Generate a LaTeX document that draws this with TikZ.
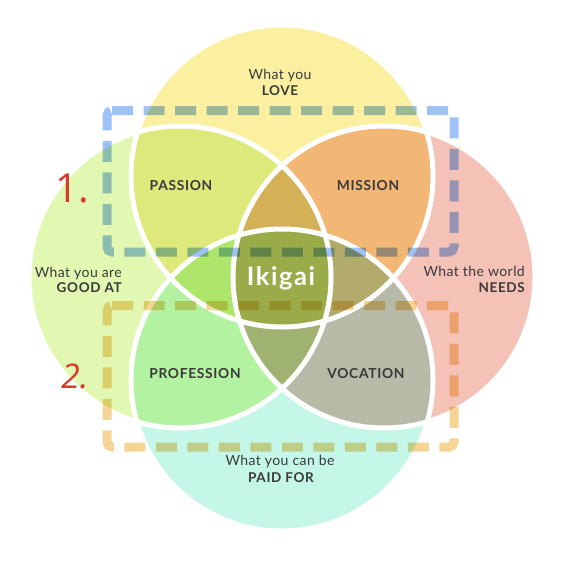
\documentclass[tikz,border=0pt]{standalone}
\usepackage{fontspec}
\setmainfont{Lato}
\newfontfamily\thinspaced{Lato}[LetterSpace=3]
\newfontfamily\spaced{Lato}[LetterSpace=5]
\newfontfamily\wide{Lato}[LetterSpace=6]
\newfontfamily\handfont{Open Sans}
\definecolor{cT}{HTML}{FAF0A0}
\definecolor{cL}{HTML}{E2F8B2}
\definecolor{cR}{HTML}{F5C2B8}
\definecolor{cB}{HTML}{C4F7E8}
\definecolor{cTL}{HTML}{DDE97A}
\definecolor{cTR}{HTML}{F2B675}
\definecolor{cLB}{HTML}{B3F2A1}
\definecolor{cRB}{HTML}{B8BAA8}
\definecolor{cTLR}{HTML}{D4B156}
\definecolor{cTLB}{HTML}{ADE66A}
\definecolor{cTRB}{HTML}{B2AB6C}
\definecolor{cLRB}{HTML}{A0B272}
\definecolor{cAll}{HTML}{9AAB4A}
\definecolor{dashBlue}{HTML}{9EC2F8}
\definecolor{dashOrange}{HTML}{F6D496}
\definecolor{txt}{HTML}{3A3A3A}
\definecolor{hand}{HTML}{D63B2B}
\tikzset{
  thinlbl/.style={text=txt, font=\thinspaced\fontsize{14}{16}\selectfont, inner sep=0pt},
  boldlbl/.style={text=txt, font=\spaced\bfseries\fontsize{13.5}{16}\selectfont, inner sep=0pt},
  regionlbl/.style={text=txt, font=\spaced\bfseries\fontsize{13.8}{16}\selectfont, inner sep=0pt},
  dashrect/.style={line width=9pt, dash pattern=on 21pt off 10.5pt, rounded corners=5pt},
  handlbl/.style={text=hand, inner sep=0pt},
}
\begin{document}
\begin{tikzpicture}[x=1pt,y=-1pt]
\useasboundingbox (0,0) rectangle (564,565);
\def\cirT{(282,176) circle[radius=151pt]}
\def\cirL{(180,277) circle[radius=151pt]}
\def\cirR{(384,277) circle[radius=151pt]}
\def\cirB{(282,380) circle[radius=151pt]}
% single circles
\fill[cT] \cirT; \fill[cL] \cirL; \fill[cR] \cirR; \fill[cB] \cirB;
% pairs
\begin{scope}\clip \cirT; \fill[cTL] \cirL; \fill[cTR] \cirR; \end{scope}
\begin{scope}\clip \cirB; \fill[cLB] \cirL; \fill[cRB] \cirR; \end{scope}
% triples
\begin{scope}\clip \cirT; \clip \cirL; \fill[cTLR] \cirR; \fill[cTLB] \cirB; \end{scope}
\begin{scope}\clip \cirT; \clip \cirR; \fill[cTRB] \cirB; \end{scope}
\begin{scope}\clip \cirB; \clip \cirL; \fill[cLRB] \cirR; \end{scope}
% all four
\begin{scope}\clip \cirT; \clip \cirL; \clip \cirR; \fill[cAll] \cirB; \end{scope}
% white outlines
\draw[white, line width=5pt] \cirT \cirL \cirR \cirB;
% dashed frames
\begin{scope}[blend mode=multiply]
\draw[dashrect, dashBlue] (107,110.5) -- (454,110.5) -- (454,252) -- (107,252) -- cycle;
\draw[dashrect, dashOrange] (107,305.5) -- (454,305.5) -- (454,447) -- (107,447) -- cycle;
\end{scope}
% labels
\node[thinlbl, anchor=base] (love1) at (280,79) {What you};
\node[boldlbl, anchor=base] (love2) at (280,95) {LOVE};
\node[thinlbl, anchor=base east] (good1) at (122,277) {What you are};
\node[boldlbl, anchor=base east] (good2) at (122,292) {GOOD AT};
\node[thinlbl, anchor=base east] (need1) at (525,276) {What the world};
\node[boldlbl, anchor=base east] (need2) at (525,292) {NEEDS};
\node[thinlbl, anchor=base] (paid1) at (280,465) {What you can be};
\node[boldlbl, anchor=base] (paid2) at (281,482) {PAID FOR};
\node[regionlbl] (passion) at (181,186) {PASSION};
\node[regionlbl] (mission) at (368,186) {MISSION};
\node[regionlbl] (profession) at (195,374) {PROFESSION};
\node[regionlbl] (vocation) at (366,374) {VOCATION};
\node[text=white, inner sep=0pt, font=\wide\bfseries\fontsize{25.5}{28}\selectfont, anchor=base] (ikigai) at (281,285) {Ikigai};
\node[handlbl, font=\handfont\fontsize{40}{44}\selectfont, anchor=base west] (one) at (55,202) {1.};
\node[handlbl, font=\handfont\itshape\fontsize{34}{38}\selectfont, anchor=base west] (two) at (61,388) {2.};
\end{tikzpicture}
\end{document}
